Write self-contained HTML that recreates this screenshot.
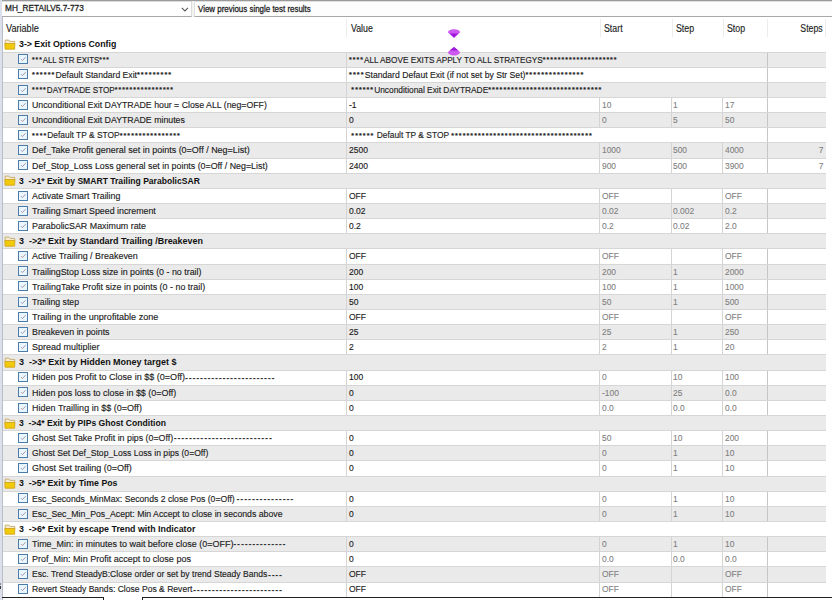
<!DOCTYPE html>
<html><head><meta charset="utf-8">
<style>
html,body{margin:0;padding:0;}
body{width:832px;height:600px;overflow:hidden;position:relative;background:#fff;font-family:"Liberation Sans",sans-serif;}
i{display:block;}
.topline{position:absolute;left:0;top:0;width:832px;height:1px;background:#9a9a9a;}
.bar{position:absolute;left:0;top:1px;width:832px;height:16px;background:#f3f3f3;}
.combo{position:absolute;left:1px;top:1px;width:189px;height:14px;background:#fff;border:1px solid #dcdcdc;border-bottom:1px solid #a8a8a8;}
.combo span{position:absolute;left:3.4px;top:-0.9px;line-height:14px;font-size:9.8px;white-space:pre;color:#1e1e1e;transform:scaleX(0.845);transform-origin:0 0;-webkit-text-stroke:0.3px #1e1e1e;}
.btn{position:absolute;left:194px;top:1px;width:640px;height:14px;background:#fdfdfd;border:1px solid #e0e0e0;border-bottom:1px solid #a8a8a8;}
.btn span{position:absolute;left:2.7px;top:-0.3px;line-height:14px;font-size:9.8px;white-space:pre;color:#1e1e1e;transform:scaleX(0.81);transform-origin:0 0;-webkit-text-stroke:0.3px #1e1e1e;}
.lstrip{position:absolute;left:0;top:0;width:2px;height:600px;background:#dce0ea;}
.lline{position:absolute;left:2px;top:17px;width:1px;height:583px;background:#b9bec8;}
.hdr{position:absolute;top:17px;height:20px;left:3px;width:829px;background:#fff;}
.hdr span{position:absolute;top:1.3px;line-height:21px;font-size:10px;white-space:pre;color:#1e1e1e;transform:scaleX(0.88);transform-origin:0 0;-webkit-text-stroke:0.15px #1e1e1e;}
.hsep{position:absolute;top:2px;height:18px;width:1px;background:#ececec;}
.row{position:absolute;left:0;width:832px;height:15.14px;}
.row.gr::before{content:"";position:absolute;left:3px;top:0;width:823px;height:100%;background:#eaeaea;}
.t{position:absolute;top:-0.2px;line-height:15.14px;font-size:9.7px;white-space:pre;color:#1c1c1c;transform:scaleX(0.905);transform-origin:0 0;-webkit-text-stroke:0.15px #1c1c1c;}
.vn{left:32px;}
.vv{left:349px;}
.gt{left:18.5px;font-weight:bold;color:#111;transform:scaleX(0.93);-webkit-text-stroke:0;}
.dsh{transform:none;font-weight:bold;font-size:9px;color:#333;-webkit-text-stroke:0;margin-top:1.2px;}
.ast{font-size:8px;font-weight:bold;letter-spacing:1.3px;position:relative;top:-0.7px;}
.c1{left:601.8px;color:#808080;transform:scaleX(0.87);-webkit-text-stroke:0.1px #808080;}
.c2{left:673.3px;color:#808080;transform:scaleX(0.87);-webkit-text-stroke:0.1px #808080;}
.c3{left:724.5px;color:#808080;transform:scaleX(0.87);-webkit-text-stroke:0.1px #808080;}
.c4{right:9px;color:#808080;transform:scaleX(0.87);transform-origin:100% 0;-webkit-text-stroke:0.1px #808080;}
.cb{position:absolute;left:18px;top:2.6px;}
.fd{position:absolute;left:4px;top:2.5px;}
.vl{position:absolute;top:0;height:100%;width:1px;background:#d4d4d4;}
.l5{background:#c6c6c6;}
.hl{position:absolute;left:3px;width:823px;height:1px;background:#d6d6d6;}
.diam{position:absolute;}
.bot{position:absolute;top:597px;height:1px;background:#222;}
</style></head><body>
<div class="topline"></div>
<div class="bar"></div>
<div class="combo"><span>MH_RETAILV5.7-773</span>
<svg style="position:absolute;left:179px;top:5px" width="8" height="5" viewBox="0 0 8 5"><path d="M0.8 0.9 L3.9 3.9 L7 0.9" fill="none" stroke="#5a5a5a" stroke-width="1.15"/></svg></div>
<div class="btn"><span>View previous single test results</span></div>
<div class="hdr">
<span style="left:3.4px;transform:scaleX(0.91)">Variable</span>
<span style="left:347.6px">Value</span>
<span style="left:601.2px">Start</span>
<span style="left:672.9px">Step</span>
<span style="left:724.4px">Stop</span>
<span style="right:9.7px;transform-origin:100% 0;transform:scaleX(0.87)">Steps</span>
<i class="hsep" style="left:343px"></i><i class="hsep" style="left:596.5px"></i><i class="hsep" style="left:668.5px"></i><i class="hsep" style="left:719.5px"></i><i class="hsep" style="left:764px"></i><i class="hsep" style="left:821.8px"></i>
</div>
<div class="lstrip"></div><div class="lline"></div>
<div class="row" style="top:36.60px"><svg class="fd" width="12" height="11" viewBox="0 0 12 11"><path d="M1.2 1.1 H4.9 L5.9 2.4 H10.7 V5 H1.2 Z" fill="#f6ead0" stroke="#c4a868" stroke-width="0.9"/><path d="M0.8 4.5 H10.9 L10.6 10.2 H1.1 Z" fill="#f2ca0c" stroke="#d2a61e" stroke-width="0.9"/></svg><span id="n0" class="t gt" style="transform:scaleX(0.9059)">3-&gt; Exit Options Config</span></div><div class="row gr" style="top:51.74px"><svg class="cb" width="10" height="10" viewBox="0 0 10 10"><rect x="0.5" y="0.5" width="9" height="9" fill="#eaf6fd" stroke="#4b7baa" stroke-width="1"/><path d="M3.1 5.2 L4.4 6.6 L7.6 3.2" fill="none" stroke="#a69aa6" stroke-width="1"/></svg><span id="n1" class="t vn" style="transform:scaleX(0.8105)"><b class="ast">***</b>ALL STR EXITS<b class="ast">***</b></span><span id="v1" class="t vv" style="transform:scaleX(0.8473)"><b class="ast">****</b>ALL ABOVE EXITS APPLY TO ALL STRATEGYS<b class="ast">********************</b></span><i class="vl" style="left:346px"></i><i class="vl l5" style="left:767px"></i></div><div class="row" style="top:66.88px"><svg class="cb" width="10" height="10" viewBox="0 0 10 10"><rect x="0.5" y="0.5" width="9" height="9" fill="#eaf6fd" stroke="#4b7baa" stroke-width="1"/><path d="M3.1 5.2 L4.4 6.6 L7.6 3.2" fill="none" stroke="#a69aa6" stroke-width="1"/></svg><span id="n2" class="t vn" style="transform:scaleX(0.8891)"><b class="ast">******</b>Default Standard Exit<b class="ast">*********</b></span><span id="v2" class="t vv" style="transform:scaleX(0.8909)"><b class="ast">****</b>Standard Defaut Exit (if not set by Str Set)<b class="ast">***************</b></span><i class="vl" style="left:346px"></i><i class="vl l5" style="left:767px"></i></div><div class="row gr" style="top:82.02px"><svg class="cb" width="10" height="10" viewBox="0 0 10 10"><rect x="0.5" y="0.5" width="9" height="9" fill="#eaf6fd" stroke="#4b7baa" stroke-width="1"/><path d="M3.1 5.2 L4.4 6.6 L7.6 3.2" fill="none" stroke="#a69aa6" stroke-width="1"/></svg><span id="n3" class="t vn" style="transform:scaleX(0.8394)"><b class="ast">****</b>DAYTRADE STOP<b class="ast">****************</b></span><span id="v3" class="t vv" style="transform:scaleX(0.8622)"> <b class="ast">******</b>Unconditional Exit DAYTRADE<b class="ast">******************************</b></span><i class="vl" style="left:346px"></i><i class="vl l5" style="left:767px"></i></div><div class="row" style="top:97.16px"><svg class="cb" width="10" height="10" viewBox="0 0 10 10"><rect x="0.5" y="0.5" width="9" height="9" fill="#eaf6fd" stroke="#4b7baa" stroke-width="1"/><path d="M3.1 5.2 L4.4 6.6 L7.6 3.2" fill="none" stroke="#a69aa6" stroke-width="1"/></svg><span id="n4" class="t vn" style="transform:scaleX(0.9050)">Unconditional Exit DAYTRADE hour = Close ALL (neg=OFF)</span><span class="t vv" style="transform:scaleX(0.875)">-1</span><span class="t c1">10</span><span class="t c2">1</span><span class="t c3">17</span><i class="vl" style="left:346px"></i><i class="vl" style="left:599px"></i><i class="vl" style="left:671px"></i><i class="vl" style="left:722px"></i><i class="vl l5" style="left:767px"></i></div><div class="row gr" style="top:112.30px"><svg class="cb" width="10" height="10" viewBox="0 0 10 10"><rect x="0.5" y="0.5" width="9" height="9" fill="#eaf6fd" stroke="#4b7baa" stroke-width="1"/><path d="M3.1 5.2 L4.4 6.6 L7.6 3.2" fill="none" stroke="#a69aa6" stroke-width="1"/></svg><span id="n5" class="t vn" style="transform:scaleX(0.9050)">Unconditional Exit DAYTRADE minutes</span><span class="t vv" style="transform:scaleX(0.875)">0</span><span class="t c1">0</span><span class="t c2">5</span><span class="t c3">50</span><i class="vl" style="left:346px"></i><i class="vl" style="left:599px"></i><i class="vl" style="left:671px"></i><i class="vl" style="left:722px"></i><i class="vl l5" style="left:767px"></i></div><div class="row" style="top:127.44px"><svg class="cb" width="10" height="10" viewBox="0 0 10 10"><rect x="0.5" y="0.5" width="9" height="9" fill="#eaf6fd" stroke="#4b7baa" stroke-width="1"/><path d="M3.1 5.2 L4.4 6.6 L7.6 3.2" fill="none" stroke="#a69aa6" stroke-width="1"/></svg><span id="n6" class="t vn" style="transform:scaleX(0.8669)"><b class="ast">****</b>Default TP &amp; STOP<b class="ast">****************</b></span><span id="v6" class="t vv" style="transform:scaleX(0.8673)"> <b class="ast">******</b> Default TP &amp; STOP <b class="ast">*************************************</b></span><i class="vl" style="left:346px"></i><i class="vl l5" style="left:767px"></i></div><div class="row gr" style="top:142.58px"><svg class="cb" width="10" height="10" viewBox="0 0 10 10"><rect x="0.5" y="0.5" width="9" height="9" fill="#eaf6fd" stroke="#4b7baa" stroke-width="1"/><path d="M3.1 5.2 L4.4 6.6 L7.6 3.2" fill="none" stroke="#a69aa6" stroke-width="1"/></svg><span id="n7" class="t vn" style="transform:scaleX(0.9262)">Def_Take Profit general set in points (0=Off / Neg=List)</span><span class="t vv" style="transform:scaleX(0.875)">2500</span><span class="t c1">1000</span><span class="t c2">500</span><span class="t c3">4000</span><span class="t c4">7</span><i class="vl" style="left:346px"></i><i class="vl" style="left:599px"></i><i class="vl" style="left:671px"></i><i class="vl" style="left:722px"></i><i class="vl l5" style="left:767px"></i></div><div class="row" style="top:157.72px"><svg class="cb" width="10" height="10" viewBox="0 0 10 10"><rect x="0.5" y="0.5" width="9" height="9" fill="#eaf6fd" stroke="#4b7baa" stroke-width="1"/><path d="M3.1 5.2 L4.4 6.6 L7.6 3.2" fill="none" stroke="#a69aa6" stroke-width="1"/></svg><span id="n8" class="t vn" style="transform:scaleX(0.9128)">Def_Stop_Loss Loss general set in points (0=Off / Neg=List)</span><span class="t vv" style="transform:scaleX(0.875)">2400</span><span class="t c1">900</span><span class="t c2">500</span><span class="t c3">3900</span><span class="t c4">7</span><i class="vl" style="left:346px"></i><i class="vl" style="left:599px"></i><i class="vl" style="left:671px"></i><i class="vl" style="left:722px"></i><i class="vl l5" style="left:767px"></i></div><div class="row gr" style="top:172.86px"><svg class="fd" width="12" height="11" viewBox="0 0 12 11"><path d="M1.2 1.1 H4.9 L5.9 2.4 H10.7 V5 H1.2 Z" fill="#f6ead0" stroke="#c4a868" stroke-width="0.9"/><path d="M0.8 4.5 H10.9 L10.6 10.2 H1.1 Z" fill="#f2ca0c" stroke="#d2a61e" stroke-width="0.9"/></svg><span id="n9" class="t gt" style="transform:scaleX(0.8852)">3  -&gt;1* Exit by SMART Trailing ParabolicSAR</span></div><div class="row" style="top:188.00px"><svg class="cb" width="10" height="10" viewBox="0 0 10 10"><rect x="0.5" y="0.5" width="9" height="9" fill="#eaf6fd" stroke="#4b7baa" stroke-width="1"/><path d="M3.1 5.2 L4.4 6.6 L7.6 3.2" fill="none" stroke="#a69aa6" stroke-width="1"/></svg><span id="n10" class="t vn" style="transform:scaleX(0.9116)">Activate Smart Trailing</span><span class="t vv" style="transform:scaleX(0.875)">OFF</span><span class="t c1">OFF</span><span class="t c2"></span><span class="t c3">OFF</span><i class="vl" style="left:346px"></i><i class="vl" style="left:599px"></i><i class="vl" style="left:671px"></i><i class="vl" style="left:722px"></i><i class="vl l5" style="left:767px"></i></div><div class="row gr" style="top:203.14px"><svg class="cb" width="10" height="10" viewBox="0 0 10 10"><rect x="0.5" y="0.5" width="9" height="9" fill="#eaf6fd" stroke="#4b7baa" stroke-width="1"/><path d="M3.1 5.2 L4.4 6.6 L7.6 3.2" fill="none" stroke="#a69aa6" stroke-width="1"/></svg><span id="n11" class="t vn" style="transform:scaleX(0.9112)">Trailing Smart Speed increment</span><span class="t vv" style="transform:scaleX(0.875)">0.02</span><span class="t c1">0.02</span><span class="t c2">0.002</span><span class="t c3">0.2</span><i class="vl" style="left:346px"></i><i class="vl" style="left:599px"></i><i class="vl" style="left:671px"></i><i class="vl" style="left:722px"></i><i class="vl l5" style="left:767px"></i></div><div class="row" style="top:218.28px"><svg class="cb" width="10" height="10" viewBox="0 0 10 10"><rect x="0.5" y="0.5" width="9" height="9" fill="#eaf6fd" stroke="#4b7baa" stroke-width="1"/><path d="M3.1 5.2 L4.4 6.6 L7.6 3.2" fill="none" stroke="#a69aa6" stroke-width="1"/></svg><span id="n12" class="t vn" style="transform:scaleX(0.9165)">ParabolicSAR Maximum rate</span><span class="t vv" style="transform:scaleX(0.875)">0.2</span><span class="t c1">0.2</span><span class="t c2">0.02</span><span class="t c3">2.0</span><i class="vl" style="left:346px"></i><i class="vl" style="left:599px"></i><i class="vl" style="left:671px"></i><i class="vl" style="left:722px"></i><i class="vl l5" style="left:767px"></i></div><div class="row gr" style="top:233.42px"><svg class="fd" width="12" height="11" viewBox="0 0 12 11"><path d="M1.2 1.1 H4.9 L5.9 2.4 H10.7 V5 H1.2 Z" fill="#f6ead0" stroke="#c4a868" stroke-width="0.9"/><path d="M0.8 4.5 H10.9 L10.6 10.2 H1.1 Z" fill="#f2ca0c" stroke="#d2a61e" stroke-width="0.9"/></svg><span id="n13" class="t gt" style="transform:scaleX(0.9219)">3  -&gt;2* Exit by Standard Trailing /Breakeven</span></div><div class="row" style="top:248.56px"><svg class="cb" width="10" height="10" viewBox="0 0 10 10"><rect x="0.5" y="0.5" width="9" height="9" fill="#eaf6fd" stroke="#4b7baa" stroke-width="1"/><path d="M3.1 5.2 L4.4 6.6 L7.6 3.2" fill="none" stroke="#a69aa6" stroke-width="1"/></svg><span id="n14" class="t vn" style="transform:scaleX(0.9225)">Active Trailing / Breakeven</span><span class="t vv" style="transform:scaleX(0.875)">OFF</span><span class="t c1">OFF</span><span class="t c2"></span><span class="t c3">OFF</span><i class="vl" style="left:346px"></i><i class="vl" style="left:599px"></i><i class="vl" style="left:671px"></i><i class="vl" style="left:722px"></i><i class="vl l5" style="left:767px"></i></div><div class="row gr" style="top:263.70px"><svg class="cb" width="10" height="10" viewBox="0 0 10 10"><rect x="0.5" y="0.5" width="9" height="9" fill="#eaf6fd" stroke="#4b7baa" stroke-width="1"/><path d="M3.1 5.2 L4.4 6.6 L7.6 3.2" fill="none" stroke="#a69aa6" stroke-width="1"/></svg><span id="n15" class="t vn" style="transform:scaleX(0.9139)">TrailingStop Loss size in points (0 - no trail)</span><span class="t vv" style="transform:scaleX(0.875)">200</span><span class="t c1">200</span><span class="t c2">1</span><span class="t c3">2000</span><i class="vl" style="left:346px"></i><i class="vl" style="left:599px"></i><i class="vl" style="left:671px"></i><i class="vl" style="left:722px"></i><i class="vl l5" style="left:767px"></i></div><div class="row" style="top:278.84px"><svg class="cb" width="10" height="10" viewBox="0 0 10 10"><rect x="0.5" y="0.5" width="9" height="9" fill="#eaf6fd" stroke="#4b7baa" stroke-width="1"/><path d="M3.1 5.2 L4.4 6.6 L7.6 3.2" fill="none" stroke="#a69aa6" stroke-width="1"/></svg><span id="n16" class="t vn" style="transform:scaleX(0.9210)">TrailingTake Profit size in points (0 - no trail)</span><span class="t vv" style="transform:scaleX(0.875)">100</span><span class="t c1">100</span><span class="t c2">1</span><span class="t c3">1000</span><i class="vl" style="left:346px"></i><i class="vl" style="left:599px"></i><i class="vl" style="left:671px"></i><i class="vl" style="left:722px"></i><i class="vl l5" style="left:767px"></i></div><div class="row gr" style="top:293.98px"><svg class="cb" width="10" height="10" viewBox="0 0 10 10"><rect x="0.5" y="0.5" width="9" height="9" fill="#eaf6fd" stroke="#4b7baa" stroke-width="1"/><path d="M3.1 5.2 L4.4 6.6 L7.6 3.2" fill="none" stroke="#a69aa6" stroke-width="1"/></svg><span id="n17" class="t vn" style="transform:scaleX(0.8962)">Trailing step</span><span class="t vv" style="transform:scaleX(0.875)">50</span><span class="t c1">50</span><span class="t c2">1</span><span class="t c3">500</span><i class="vl" style="left:346px"></i><i class="vl" style="left:599px"></i><i class="vl" style="left:671px"></i><i class="vl" style="left:722px"></i><i class="vl l5" style="left:767px"></i></div><div class="row" style="top:309.12px"><svg class="cb" width="10" height="10" viewBox="0 0 10 10"><rect x="0.5" y="0.5" width="9" height="9" fill="#eaf6fd" stroke="#4b7baa" stroke-width="1"/><path d="M3.1 5.2 L4.4 6.6 L7.6 3.2" fill="none" stroke="#a69aa6" stroke-width="1"/></svg><span id="n18" class="t vn" style="transform:scaleX(0.9372)">Trailing in the unprofitable zone</span><span class="t vv" style="transform:scaleX(0.875)">OFF</span><span class="t c1">OFF</span><span class="t c2"></span><span class="t c3">OFF</span><i class="vl" style="left:346px"></i><i class="vl" style="left:599px"></i><i class="vl" style="left:671px"></i><i class="vl" style="left:722px"></i><i class="vl l5" style="left:767px"></i></div><div class="row gr" style="top:324.26px"><svg class="cb" width="10" height="10" viewBox="0 0 10 10"><rect x="0.5" y="0.5" width="9" height="9" fill="#eaf6fd" stroke="#4b7baa" stroke-width="1"/><path d="M3.1 5.2 L4.4 6.6 L7.6 3.2" fill="none" stroke="#a69aa6" stroke-width="1"/></svg><span id="n19" class="t vn" style="transform:scaleX(0.9108)">Breakeven in points</span><span class="t vv" style="transform:scaleX(0.875)">25</span><span class="t c1">25</span><span class="t c2">1</span><span class="t c3">250</span><i class="vl" style="left:346px"></i><i class="vl" style="left:599px"></i><i class="vl" style="left:671px"></i><i class="vl" style="left:722px"></i><i class="vl l5" style="left:767px"></i></div><div class="row" style="top:339.40px"><svg class="cb" width="10" height="10" viewBox="0 0 10 10"><rect x="0.5" y="0.5" width="9" height="9" fill="#eaf6fd" stroke="#4b7baa" stroke-width="1"/><path d="M3.1 5.2 L4.4 6.6 L7.6 3.2" fill="none" stroke="#a69aa6" stroke-width="1"/></svg><span id="n20" class="t vn" style="transform:scaleX(0.9274)">Spread multiplier</span><span class="t vv" style="transform:scaleX(0.875)">2</span><span class="t c1">2</span><span class="t c2">1</span><span class="t c3">20</span><i class="vl" style="left:346px"></i><i class="vl" style="left:599px"></i><i class="vl" style="left:671px"></i><i class="vl" style="left:722px"></i><i class="vl l5" style="left:767px"></i></div><div class="row gr" style="top:354.54px"><svg class="fd" width="12" height="11" viewBox="0 0 12 11"><path d="M1.2 1.1 H4.9 L5.9 2.4 H10.7 V5 H1.2 Z" fill="#f6ead0" stroke="#c4a868" stroke-width="0.9"/><path d="M0.8 4.5 H10.9 L10.6 10.2 H1.1 Z" fill="#f2ca0c" stroke="#d2a61e" stroke-width="0.9"/></svg><span id="n21" class="t gt" style="transform:scaleX(0.9275)">3  -&gt;3* Exit by Hidden Money target $</span></div><div class="row" style="top:369.68px"><svg class="cb" width="10" height="10" viewBox="0 0 10 10"><rect x="0.5" y="0.5" width="9" height="9" fill="#eaf6fd" stroke="#4b7baa" stroke-width="1"/><path d="M3.1 5.2 L4.4 6.6 L7.6 3.2" fill="none" stroke="#a69aa6" stroke-width="1"/></svg><span id="n22" class="t vn" style="transform:scaleX(0.9344)">Hiden pos Profit to Close in $$ (0=Off)</span><span id="d22" class="t dsh" style="left:184.90px;letter-spacing:0.770px">------------------------</span><span class="t vv" style="transform:scaleX(0.875)">100</span><span class="t c1">0</span><span class="t c2">10</span><span class="t c3">100</span><i class="vl" style="left:346px"></i><i class="vl" style="left:599px"></i><i class="vl" style="left:671px"></i><i class="vl" style="left:722px"></i><i class="vl l5" style="left:767px"></i></div><div class="row gr" style="top:384.82px"><svg class="cb" width="10" height="10" viewBox="0 0 10 10"><rect x="0.5" y="0.5" width="9" height="9" fill="#eaf6fd" stroke="#4b7baa" stroke-width="1"/><path d="M3.1 5.2 L4.4 6.6 L7.6 3.2" fill="none" stroke="#a69aa6" stroke-width="1"/></svg><span id="n23" class="t vn" style="transform:scaleX(0.9231)">Hiden pos loss to close in $$ (0=Off)</span><span class="t vv" style="transform:scaleX(0.875)">0</span><span class="t c1">-100</span><span class="t c2">25</span><span class="t c3">0.0</span><i class="vl" style="left:346px"></i><i class="vl" style="left:599px"></i><i class="vl" style="left:671px"></i><i class="vl" style="left:722px"></i><i class="vl l5" style="left:767px"></i></div><div class="row" style="top:399.96px"><svg class="cb" width="10" height="10" viewBox="0 0 10 10"><rect x="0.5" y="0.5" width="9" height="9" fill="#eaf6fd" stroke="#4b7baa" stroke-width="1"/><path d="M3.1 5.2 L4.4 6.6 L7.6 3.2" fill="none" stroke="#a69aa6" stroke-width="1"/></svg><span id="n24" class="t vn" style="transform:scaleX(0.9311)">Hiden Trailling in $$ (0=Off)</span><span class="t vv" style="transform:scaleX(0.875)">0</span><span class="t c1">0.0</span><span class="t c2">0.0</span><span class="t c3">0.0</span><i class="vl" style="left:346px"></i><i class="vl" style="left:599px"></i><i class="vl" style="left:671px"></i><i class="vl" style="left:722px"></i><i class="vl l5" style="left:767px"></i></div><div class="row gr" style="top:415.10px"><svg class="fd" width="12" height="11" viewBox="0 0 12 11"><path d="M1.2 1.1 H4.9 L5.9 2.4 H10.7 V5 H1.2 Z" fill="#f6ead0" stroke="#c4a868" stroke-width="0.9"/><path d="M0.8 4.5 H10.9 L10.6 10.2 H1.1 Z" fill="#f2ca0c" stroke="#d2a61e" stroke-width="0.9"/></svg><span id="n25" class="t gt" style="transform:scaleX(0.8877)">3  -&gt;4* Exit by PIPs Ghost Condition</span></div><div class="row" style="top:430.24px"><svg class="cb" width="10" height="10" viewBox="0 0 10 10"><rect x="0.5" y="0.5" width="9" height="9" fill="#eaf6fd" stroke="#4b7baa" stroke-width="1"/><path d="M3.1 5.2 L4.4 6.6 L7.6 3.2" fill="none" stroke="#a69aa6" stroke-width="1"/></svg><span id="n26" class="t vn" style="transform:scaleX(0.9107)">Ghost Set Take Profit in pips (0=Off)</span><span id="d26" class="t dsh" style="left:173.70px;letter-spacing:0.812px">--------------------------</span><span class="t vv" style="transform:scaleX(0.875)">0</span><span class="t c1">50</span><span class="t c2">10</span><span class="t c3">200</span><i class="vl" style="left:346px"></i><i class="vl" style="left:599px"></i><i class="vl" style="left:671px"></i><i class="vl" style="left:722px"></i><i class="vl l5" style="left:767px"></i></div><div class="row gr" style="top:445.38px"><svg class="cb" width="10" height="10" viewBox="0 0 10 10"><rect x="0.5" y="0.5" width="9" height="9" fill="#eaf6fd" stroke="#4b7baa" stroke-width="1"/><path d="M3.1 5.2 L4.4 6.6 L7.6 3.2" fill="none" stroke="#a69aa6" stroke-width="1"/></svg><span id="n27" class="t vn" style="transform:scaleX(0.8870)">Ghost Set Def_Stop_Loss Loss in pips (0=Off)</span><span class="t vv" style="transform:scaleX(0.875)">0</span><span class="t c1">0</span><span class="t c2">1</span><span class="t c3">10</span><i class="vl" style="left:346px"></i><i class="vl" style="left:599px"></i><i class="vl" style="left:671px"></i><i class="vl" style="left:722px"></i><i class="vl l5" style="left:767px"></i></div><div class="row" style="top:460.52px"><svg class="cb" width="10" height="10" viewBox="0 0 10 10"><rect x="0.5" y="0.5" width="9" height="9" fill="#eaf6fd" stroke="#4b7baa" stroke-width="1"/><path d="M3.1 5.2 L4.4 6.6 L7.6 3.2" fill="none" stroke="#a69aa6" stroke-width="1"/></svg><span id="n28" class="t vn" style="transform:scaleX(0.9313)">Ghost Set trailing (0=Off)</span><span class="t vv" style="transform:scaleX(0.875)">0</span><span class="t c1">0</span><span class="t c2">1</span><span class="t c3">10</span><i class="vl" style="left:346px"></i><i class="vl" style="left:599px"></i><i class="vl" style="left:671px"></i><i class="vl" style="left:722px"></i><i class="vl l5" style="left:767px"></i></div><div class="row gr" style="top:475.66px"><svg class="fd" width="12" height="11" viewBox="0 0 12 11"><path d="M1.2 1.1 H4.9 L5.9 2.4 H10.7 V5 H1.2 Z" fill="#f6ead0" stroke="#c4a868" stroke-width="0.9"/><path d="M0.8 4.5 H10.9 L10.6 10.2 H1.1 Z" fill="#f2ca0c" stroke="#d2a61e" stroke-width="0.9"/></svg><span id="n29" class="t gt" style="transform:scaleX(0.9046)">3  -&gt;5* Exit by Time Pos</span></div><div class="row" style="top:490.80px"><svg class="cb" width="10" height="10" viewBox="0 0 10 10"><rect x="0.5" y="0.5" width="9" height="9" fill="#eaf6fd" stroke="#4b7baa" stroke-width="1"/><path d="M3.1 5.2 L4.4 6.6 L7.6 3.2" fill="none" stroke="#a69aa6" stroke-width="1"/></svg><span id="n30" class="t vn" style="transform:scaleX(0.8917)">Esc_Seconds_MinMax: Seconds 2 close Pos (0=Off)</span><span id="d30" class="t dsh" style="left:236.50px;letter-spacing:0.850px">---------------</span><span class="t vv" style="transform:scaleX(0.875)">0</span><span class="t c1">0</span><span class="t c2">1</span><span class="t c3">10</span><i class="vl" style="left:346px"></i><i class="vl" style="left:599px"></i><i class="vl" style="left:671px"></i><i class="vl" style="left:722px"></i><i class="vl l5" style="left:767px"></i></div><div class="row gr" style="top:505.94px"><svg class="cb" width="10" height="10" viewBox="0 0 10 10"><rect x="0.5" y="0.5" width="9" height="9" fill="#eaf6fd" stroke="#4b7baa" stroke-width="1"/><path d="M3.1 5.2 L4.4 6.6 L7.6 3.2" fill="none" stroke="#a69aa6" stroke-width="1"/></svg><span id="n31" class="t vn" style="transform:scaleX(0.8997)">Esc_Sec_Min_Pos_Acept: Min Accept to close in seconds above</span><span class="t vv" style="transform:scaleX(0.875)">0</span><span class="t c1">0</span><span class="t c2">1</span><span class="t c3">10</span><i class="vl" style="left:346px"></i><i class="vl" style="left:599px"></i><i class="vl" style="left:671px"></i><i class="vl" style="left:722px"></i><i class="vl l5" style="left:767px"></i></div><div class="row" style="top:521.08px"><svg class="fd" width="12" height="11" viewBox="0 0 12 11"><path d="M1.2 1.1 H4.9 L5.9 2.4 H10.7 V5 H1.2 Z" fill="#f6ead0" stroke="#c4a868" stroke-width="0.9"/><path d="M0.8 4.5 H10.9 L10.6 10.2 H1.1 Z" fill="#f2ca0c" stroke="#d2a61e" stroke-width="0.9"/></svg><span id="n32" class="t gt" style="transform:scaleX(0.9111)">3  -&gt;6* Exit by escape Trend with Indicator</span></div><div class="row gr" style="top:536.22px"><svg class="cb" width="10" height="10" viewBox="0 0 10 10"><rect x="0.5" y="0.5" width="9" height="9" fill="#eaf6fd" stroke="#4b7baa" stroke-width="1"/><path d="M3.1 5.2 L4.4 6.6 L7.6 3.2" fill="none" stroke="#a69aa6" stroke-width="1"/></svg><span id="n33" class="t vn" style="transform:scaleX(0.9263)">Time_Min: in minutes to wait before close (0=OFF)</span><span id="d33" class="t dsh" style="left:233.30px;letter-spacing:0.792px">--------------</span><span class="t vv" style="transform:scaleX(0.875)">0</span><span class="t c1">0</span><span class="t c2">1</span><span class="t c3">10</span><i class="vl" style="left:346px"></i><i class="vl" style="left:599px"></i><i class="vl" style="left:671px"></i><i class="vl" style="left:722px"></i><i class="vl l5" style="left:767px"></i></div><div class="row" style="top:551.36px"><svg class="cb" width="10" height="10" viewBox="0 0 10 10"><rect x="0.5" y="0.5" width="9" height="9" fill="#eaf6fd" stroke="#4b7baa" stroke-width="1"/><path d="M3.1 5.2 L4.4 6.6 L7.6 3.2" fill="none" stroke="#a69aa6" stroke-width="1"/></svg><span id="n34" class="t vn" style="transform:scaleX(0.9312)">Prof_Min: Min Profit accept to close pos</span><span class="t vv" style="transform:scaleX(0.875)">0</span><span class="t c1">0.0</span><span class="t c2">0.0</span><span class="t c3">0.0</span><i class="vl" style="left:346px"></i><i class="vl" style="left:599px"></i><i class="vl" style="left:671px"></i><i class="vl" style="left:722px"></i><i class="vl l5" style="left:767px"></i></div><div class="row gr" style="top:566.50px"><svg class="cb" width="10" height="10" viewBox="0 0 10 10"><rect x="0.5" y="0.5" width="9" height="9" fill="#eaf6fd" stroke="#4b7baa" stroke-width="1"/><path d="M3.1 5.2 L4.4 6.6 L7.6 3.2" fill="none" stroke="#a69aa6" stroke-width="1"/></svg><span id="n35" class="t vn" style="transform:scaleX(0.8844)">Esc. Trend SteadyB:Close order or set by trend Steady Bands</span><span id="d35" class="t dsh" style="left:268.00px;letter-spacing:0.667px">----</span><span class="t vv" style="transform:scaleX(0.875)">OFF</span><span class="t c1">OFF</span><span class="t c2"></span><span class="t c3">OFF</span><i class="vl" style="left:346px"></i><i class="vl" style="left:599px"></i><i class="vl" style="left:671px"></i><i class="vl" style="left:722px"></i><i class="vl l5" style="left:767px"></i></div><div class="row" style="top:581.64px"><svg class="cb" width="10" height="10" viewBox="0 0 10 10"><rect x="0.5" y="0.5" width="9" height="9" fill="#eaf6fd" stroke="#4b7baa" stroke-width="1"/><path d="M3.1 5.2 L4.4 6.6 L7.6 3.2" fill="none" stroke="#a69aa6" stroke-width="1"/></svg><span id="n36" class="t vn" style="transform:scaleX(0.8838)">Revert Steady Bands: Close Pos &amp; Revert</span><span id="d36" class="t dsh" style="left:192.90px;letter-spacing:0.752px">------------------------</span><span class="t vv" style="transform:scaleX(0.875)">OFF</span><span class="t c1">OFF</span><span class="t c2"></span><span class="t c3">OFF</span><i class="vl" style="left:346px"></i><i class="vl" style="left:599px"></i><i class="vl" style="left:671px"></i><i class="vl" style="left:722px"></i><i class="vl l5" style="left:767px"></i></div>
<i class="hl" style="top:51.64px"></i><i class="hl" style="top:66.78px"></i><i class="hl" style="top:81.92px"></i><i class="hl" style="top:97.06px"></i><i class="hl" style="top:112.20px"></i><i class="hl" style="top:127.34px"></i><i class="hl" style="top:142.48px"></i><i class="hl" style="top:157.62px"></i><i class="hl" style="top:172.76px"></i><i class="hl" style="top:187.90px"></i><i class="hl" style="top:203.04px"></i><i class="hl" style="top:218.18px"></i><i class="hl" style="top:233.32px"></i><i class="hl" style="top:248.46px"></i><i class="hl" style="top:263.60px"></i><i class="hl" style="top:278.74px"></i><i class="hl" style="top:293.88px"></i><i class="hl" style="top:309.02px"></i><i class="hl" style="top:324.16px"></i><i class="hl" style="top:339.30px"></i><i class="hl" style="top:354.44px"></i><i class="hl" style="top:369.58px"></i><i class="hl" style="top:384.72px"></i><i class="hl" style="top:399.86px"></i><i class="hl" style="top:415.00px"></i><i class="hl" style="top:430.14px"></i><i class="hl" style="top:445.28px"></i><i class="hl" style="top:460.42px"></i><i class="hl" style="top:475.56px"></i><i class="hl" style="top:490.70px"></i><i class="hl" style="top:505.84px"></i><i class="hl" style="top:520.98px"></i><i class="hl" style="top:536.12px"></i><i class="hl" style="top:551.26px"></i><i class="hl" style="top:566.40px"></i><i class="hl" style="top:581.54px"></i>
<svg class="diam" style="left:447px;top:29px" width="14" height="28" viewBox="0 0 14 28">
<path d="M1 3.4 C1 -0.9 13 -0.9 13 3.4 L7 8.7 Z" fill="#cd5af0"/>
<path d="M2.6 4.6 L7 8.7 L11.4 4.6 Z" fill="#9e1adc"/>
<path d="M1 23 C1 27.6 13 27.6 13 23 L7 18 Z" fill="#cd5af0"/>
<path d="M2.6 21.6 L7 18 L11.4 21.6 Z" fill="#9e1adc"/>
</svg>
<div class="bot" style="left:2px;width:101px"></div><i style="position:absolute;left:0;top:583px;width:1px;height:2px;background:#8a8a8a"></i><i style="position:absolute;left:0;top:586px;width:1px;height:3px;background:#3a3a3a"></i>
<div class="bot" style="left:142px;width:690px"></div>
<i style="position:absolute;left:103px;top:597px;width:1px;height:3px;background:#222"></i>
<i style="position:absolute;left:142px;top:597px;width:1px;height:3px;background:#222"></i>
</body></html>
